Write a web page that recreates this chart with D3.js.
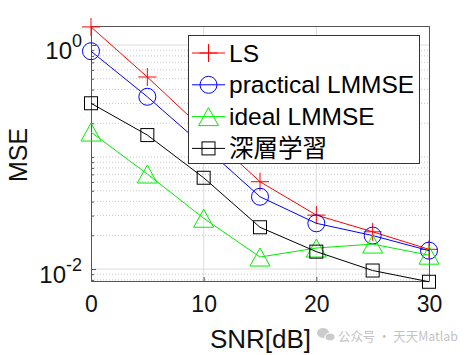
<!DOCTYPE html>
<html><head><meta charset="utf-8">
<script src="https://cdn.jsdelivr.net/npm/d3@7"></script>
<style>
html,body{margin:0;padding:0;background:#fff;}
svg{display:block;font-family:"Liberation Sans",Arial,"Noto Sans CJK JP",sans-serif;}
</style></head>
<body>
<svg id="chart" width="474" height="355"></svg>
<script>
const snr = [0, 5, 10, 15, 20, 25, 30];
const lsValues = [1.45, 0.518, 0.175, 0.0602, 0.0303, 0.0215, 0.0150];
const practicalValues = [0.88, 0.345, 0.125, 0.0442, 0.0256, 0.0199, 0.0146];
const idealValues = [0.167, 0.0705, 0.0284, 0.0128, 0.0154, 0.0167, 0.0133];
const deepValues = [0.302, 0.157, 0.0653, 0.0236, 0.0143, 0.0097, 0.0077];
const seriesNames = ["LS", "practical LMMSE", "ideal LMMSE", "深層学習"];
const xTicks = [0, 10, 20, 30];
const yTicks = [0.01, 1];
const xLabel = "SNR[dB]";
const yLabel = "MSE";
const watermark = "公众号 · 天天Matlab";

const seriesValues = [lsValues, practicalValues, idealValues, deepValues];
const colors = ["#ff0000", "#0000ff", "#00ee00", "#000000"];
const markers = ["plus", "circle", "triangle", "square"];

const L = 91, R = 429, T = 26, B = 281;
const svg = d3.select("#chart");
const x = d3.scaleLinear().domain([0, 30]).range([L, R]);
const y = d3.scaleLog().domain([0.00782, 1.478]).range([B, T]);

// minor grid values
const minor = [];
for (let e = -3; e <= 0; e++) for (let m = 2; m <= 9; m++) {
  const v = m * Math.pow(10, e);
  if (v > y.domain()[0] && v < y.domain()[1]) minor.push(v);
}
minor.push(0.1);

const grid = svg.append("g");
grid.selectAll("line.ym").data(minor).join("line")
  .attr("x1", L).attr("x2", R).attr("y1", d => y(d)).attr("y2", d => y(d))
  .attr("stroke", "#c8c8c8").attr("stroke-width", 1).attr("stroke-dasharray", "1,2");
grid.selectAll("line.yM").data(yTicks).join("line")
  .attr("x1", L).attr("x2", R).attr("y1", d => y(d)).attr("y2", d => y(d))
  .attr("stroke", "#dcdcdc").attr("stroke-width", 1);
grid.selectAll("line.xM").data(xTicks.slice(1, -1)).join("line")
  .attr("y1", T).attr("y2", B).attr("x1", d => x(d)).attr("x2", d => x(d))
  .attr("stroke", "#dcdcdc").attr("stroke-width", 1);

// axes
const axisColor = "#555";
const xAxis = svg.append("g").attr("transform", `translate(0,${B})`)
  .call(d3.axisBottom(x).tickValues(xTicks).tickSize(-4).tickPadding(18).tickFormat(d3.format("d")));
xAxis.select(".domain").attr("stroke", axisColor);
xAxis.selectAll(".tick line").attr("stroke", axisColor);
xAxis.selectAll(".tick text").attr("font-size", 23).attr("fill", "#111")
  .attr("font-family", "Liberation Sans, Arial, sans-serif").attr("dy", "0.55em");

const yAxisMinor = svg.append("g").attr("transform", `translate(${L},0)`)
  .call(d3.axisLeft(y).tickValues(minor).tickSize(-3).tickFormat(""));
yAxisMinor.select(".domain").remove();
yAxisMinor.selectAll(".tick line").attr("stroke", axisColor);

const yAxis = svg.append("g").attr("transform", `translate(${L},0)`)
  .call(d3.axisLeft(y).tickValues(yTicks).tickSize(-5).tickPadding(9));
yAxis.select(".domain").attr("stroke", axisColor);
yAxis.selectAll(".tick line").attr("stroke", axisColor);
yAxis.selectAll(".tick text").each(function(d) {
  const t = d3.select(this);
  const exp = Math.round(Math.log10(d));
  t.text("").attr("font-size", 24).attr("fill", "#111").attr("dy", "0.58em")
    .attr("font-family", "Liberation Sans, Arial, sans-serif");
  t.append("tspan").text("10");
  t.append("tspan").text(String(exp)).attr("font-size", 18).attr("dy", "-0.7em");
});

// box top/right
svg.append("line").attr("x1", L).attr("x2", R).attr("y1", T + 0.5).attr("y2", T + 0.5).attr("stroke", axisColor);
svg.append("line").attr("x1", R + 0.5).attr("x2", R + 0.5).attr("y1", T).attr("y2", B).attr("stroke", axisColor);
svg.selectAll(".domain").attr("stroke-width", 1);

// marker drawer
function drawMarker(g, type, color) {
  if (type === "plus") {
    g.append("path").attr("d", "M-9,0H9M0,-9V9").attr("stroke", color).attr("fill", "none");
  } else if (type === "circle") {
    g.append("circle").attr("r", 8.5).attr("stroke", color).attr("fill", "none");
  } else if (type === "triangle") {
    g.append("path").attr("d", "M0,-9L10,9L-10,9Z").attr("stroke", color).attr("fill", "none");
  } else if (type === "square") {
    g.append("rect").attr("x", -6.5).attr("y", -6.5).attr("width", 13).attr("height", 13)
      .attr("stroke", color).attr("fill", "none");
  }
}

const line = d3.line().x((d, i) => x(snr[i])).y(d => y(d));
const plot = svg.append("g");
seriesValues.forEach((vals, k) => {
  plot.append("path").datum(vals).attr("d", line)
    .attr("fill", "none").attr("stroke", colors[k]).attr("stroke-width", 1);
  vals.forEach((v, i) => {
    const g = plot.append("g").attr("transform", `translate(${x(snr[i])},${y(v)})`);
    drawMarker(g, markers[k], colors[k]);
  });
});

// legend
const lg = svg.append("g");
lg.append("rect").attr("x", 188.5).attr("y", 35.5).attr("width", 231).attr("height", 128)
  .attr("fill", "#fff").attr("stroke", "#333").attr("stroke-width", 1);
seriesNames.forEach((name, k) => {
  const cy = 53 + k * 31.8;
  lg.append("line").attr("x1", 192).attr("x2", 225).attr("y1", cy).attr("y2", cy)
    .attr("stroke", colors[k]).attr("stroke-width", 1);
  const g = lg.append("g").attr("transform", `translate(208.5,${cy})`);
  drawMarker(g, markers[k], colors[k]);
  lg.append("text").attr("x", 229).attr("y", cy + 8.5).text(name)
    .attr("font-size", 24.5).attr("fill", "#000");
});

// axis labels
svg.append("text").attr("x", (L + R) / 2 + 0.5).attr("y", 348).attr("text-anchor", "middle")
  .attr("font-size", 26).attr("fill", "#111").text(xLabel);
svg.append("text").attr("transform", `translate(27,155) rotate(-90)`).attr("text-anchor", "middle")
  .attr("font-size", 25).attr("fill", "#111").text(yLabel);

// watermark
const wm = svg.append("g").attr("opacity", 0.5);
wm.append("ellipse").attr("cx", 323).attr("cy", 333).attr("rx", 6).attr("ry", 5).attr("fill", "#999");
wm.append("ellipse").attr("cx", 330).attr("cy", 337).attr("rx", 5).attr("ry", 4).attr("fill", "#999").attr("stroke", "#fff").attr("stroke-width", 1);
wm.append("text").attr("x", 338).attr("y", 341).attr("font-size", 13).attr("fill", "#888")
  .attr("textLength", 120).attr("lengthAdjust", "spacingAndGlyphs")
  .attr("font-family", "Noto Sans CJK SC, sans-serif").text(watermark);
</script>
</body></html>
